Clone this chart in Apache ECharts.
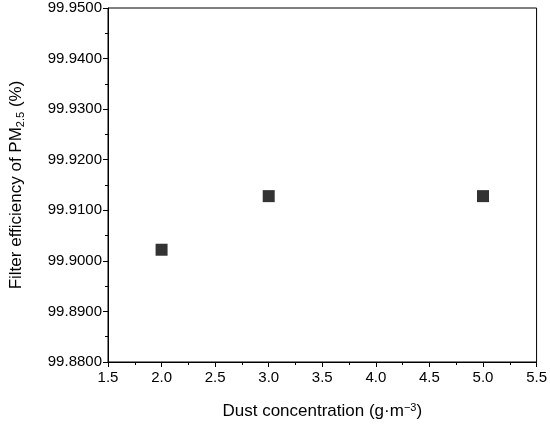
<!DOCTYPE html>
<html><head><meta charset="utf-8">
<script src="https://cdn.jsdelivr.net/npm/echarts@6/dist/echarts.min.js"></script>
<style>html,body{margin:0;padding:0;background:#fff}#c{width:550px;height:426px}</style>
</head><body><div id="c"></div>
<script>
// dust concentration vs PM2.5 filter efficiency
var dustConc = [2.0, 3.0, 5.0];
var efficiency = [99.9022, 99.9128, 99.9128];

var chart = echarts.init(document.getElementById('c'));
var font = 'Arial, Liberation Sans, sans-serif';
var option = {
    animation: false,
    grid: {left: 100, right: 9, top: 8, bottom: 64, show: true, borderColor: '#000', borderWidth: 1},
    xAxis: {
        type: 'value', min: 1.5, max: 5.5, interval: 0.5,
        name: 'Dust concentration (g·m{sup|−3})',
        nameLocation: 'middle', nameGap: 40,
        nameTextStyle: {color: '#000', fontSize: 17, fontFamily: font,
            rich: {sup: {fontSize: 11, verticalAlign: 'top', padding: [0, 0, 8, 0], fontFamily: font}}},
        axisLine: {onZero: false, lineStyle: {color: '#000'}},
        axisTick: {length: 5, lineStyle: {color: '#000'}},
        minorTick: {show: true, splitNumber: 2, length: 3, lineStyle: {color: '#000'}},
        axisLabel: {color: '#000', fontSize: 15, fontFamily: font, margin: 8,
            formatter: function (v) { return v.toFixed(1); }},
        splitLine: {show: false}
    },
    yAxis: {
        type: 'value', min: 99.88, max: 99.95, interval: 0.01,
        name: 'Filter efficiency of PM{sub|2.5} (%)',
        nameLocation: 'middle', nameGap: 82,
        nameTextStyle: {color: '#000', fontSize: 17, fontFamily: font,
            rich: {sub: {fontSize: 11, verticalAlign: 'bottom', padding: [8, 0, 0, 0], fontFamily: font}}},
        axisLine: {onZero: false, lineStyle: {color: '#000'}},
        axisTick: {length: 5, lineStyle: {color: '#000'}},
        minorTick: {show: true, splitNumber: 2, length: 3, lineStyle: {color: '#000'}},
        axisLabel: {color: '#000', fontSize: 15, fontFamily: font, margin: 6,
            formatter: function (v) { return v.toFixed(4); }},
        splitLine: {show: false}
    },
    series: [{
        type: 'scatter',
        symbol: 'rect', symbolSize: 12,
        itemStyle: {color: '#000'},
        data: dustConc.map(function (x, i) { return [x, efficiency[i]]; })
    }]
};
chart.setOption(option);
</script></body></html>
